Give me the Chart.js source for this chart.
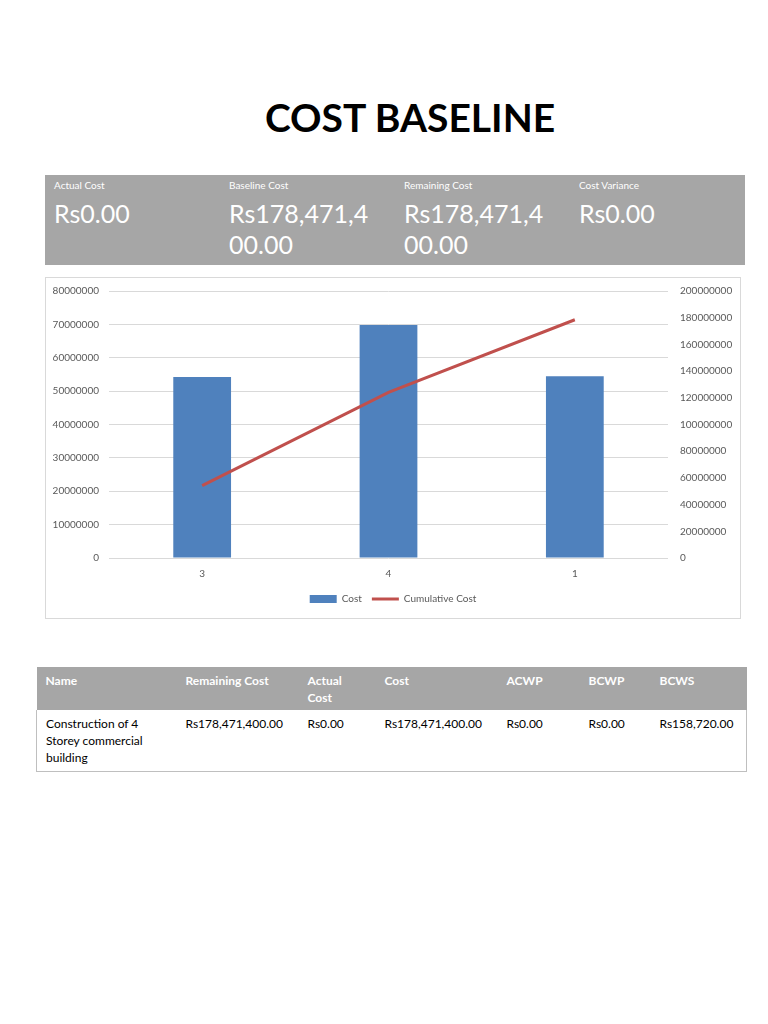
<!DOCTYPE html>
<html lang="en">
<head>
    <meta charset="UTF-8">
    <title>Cost Baseline</title>
    <script src="https://cdn.jsdelivr.net/npm/chart.js@4.4.1/dist/chart.umd.min.js"></script>
    <style>
        body { margin: 0; background: #fff; font-family: Lato, "Open Sans", sans-serif; width: 768px; height: 1024px; position: relative; }
        h1 { position: absolute; top: 94px; left: 26px; width: 768px; margin: 0; text-align: center; font-size: 39px; font-weight: bold; color: #000; }
        .panel { position: absolute; left: 45px; top: 175px; width: 700px; height: 90px; background: #a6a6a6; color: #fff; }
        .kpi { position: absolute; top: 0; width: 172px; }
        .kpi .lbl { font-size: 10px; margin-top: 4px; }
        .kpi .val { font-size: 25px; line-height: 31px; margin-top: 7px; }
        .chartbox { position: absolute; left: 45px; top: 277px; width: 694px; height: 340px; border: 1px solid #d9d9d9; }
        table { position: absolute; left: 36px; top: 667px; width: 711px; border-collapse: collapse; font-size: 12px; line-height: 17px; }
        th { background: #a6a6a6; color: #fff; text-align: left; vertical-align: top; padding: 5px 0 4px 9px; font-weight: bold; }
        td { vertical-align: top; padding: 5px 0 5px 9px; color: #000; border-bottom: 1px solid #bfbfbf; }
        td:first-child { border-left: 1px solid #bfbfbf; }
        td:last-child { border-right: 1px solid #bfbfbf; }
    </style>
</head>
<body>
    <h1>COST BASELINE</h1>

    <div class="panel">
        <div class="kpi" style="left:9px"><div class="lbl">Actual Cost</div><div class="val">Rs0.00</div></div>
        <div class="kpi" style="left:184px"><div class="lbl">Baseline Cost</div><div class="val">Rs178,471,4<br>00.00</div></div>
        <div class="kpi" style="left:359px"><div class="lbl">Remaining Cost</div><div class="val">Rs178,471,4<br>00.00</div></div>
        <div class="kpi" style="left:534px"><div class="lbl">Cost Variance</div><div class="val">Rs0.00</div></div>
    </div>

    <div class="chartbox">
        <canvas id="costChart"></canvas>
    </div>

    <table>
        <tr>
            <th style="width:131px">Name</th>
            <th style="width:113px">Remaining Cost</th>
            <th style="width:68px">Actual<br>Cost</th>
            <th style="width:113px">Cost</th>
            <th style="width:73px">ACWP</th>
            <th style="width:62px">BCWP</th>
            <th>BCWS</th>
        </tr>
        <tr>
            <td>Construction of 4<br>Storey commercial<br>building</td>
            <td>Rs178,471,400.00</td>
            <td>Rs0.00</td>
            <td>Rs178,471,400.00</td>
            <td>Rs0.00</td>
            <td>Rs0.00</td>
            <td>Rs158,720.00</td>
        </tr>
    </table>

    <script>
        // chart data
        const categories = ['3', '4', '1'];
        const costValues = [54200000, 69800000, 54471400];
        const cumulativeValues = [54200000, 124000000, 178471400];
        const leftTicks = [0, 10000000, 20000000, 30000000, 40000000, 50000000, 60000000, 70000000, 80000000];
        const rightTicks = [0, 20000000, 40000000, 60000000, 80000000, 100000000, 120000000, 140000000, 160000000, 180000000, 200000000];

        const tickFont = { family: 'Lato, "Open Sans", sans-serif', size: 10 };
        const tickColor = '#595959';

        // fixed axis sizes so the plot area sits where the reference has it
        function fixSize(w) {
            return axis => {
                axis.width = w;
                axis.paddingTop = 0;
                axis.paddingBottom = 0;
            };
        }

        new Chart(document.getElementById('costChart'), {
            data: {
                labels: categories,
                datasets: [
                    {
                        type: 'line',
                        label: 'Cumulative Cost',
                        data: cumulativeValues,
                        yAxisID: 'y2',
                        borderColor: '#c0504d',
                        backgroundColor: '#c0504d',
                        borderWidth: 3,
                        pointRadius: 0,
                        pointStyle: 'line',
                        tension: 0,
                        order: 0
                    },
                    {
                        type: 'bar',
                        label: 'Cost',
                        data: costValues,
                        yAxisID: 'y',
                        backgroundColor: '#4f81bd',
                        pointStyle: 'rect',
                        barPercentage: 0.31,
                        categoryPercentage: 1,
                        order: 1
                    }
                ]
            },
            options: {
                responsive: true,
                maintainAspectRatio: false,
                animation: false,
                layout: { padding: { top: 13, left: 0, right: 0, bottom: 4 } },
                scales: {
                    x: {
                        grid: { display: false, drawTicks: false, tickLength: 0 },
                        border: { display: false },
                        afterFit: axis => { axis.height = 26; axis.paddingLeft = 0; axis.paddingRight = 0; },
                        ticks: { color: tickColor, font: tickFont, padding: 10 }
                    },
                    y: {
                        position: 'left',
                        min: 0,
                        max: 80000000,
                        grid: { color: '#d9d9d9', drawTicks: false, tickLength: 0 },
                        border: { display: false },
                        afterBuildTicks: axis => { axis.ticks = leftTicks.map(v => ({ value: v })); },
                        afterFit: fixSize(63),
                        ticks: { color: tickColor, font: tickFont, padding: 10, callback: v => String(v) }
                    },
                    y2: {
                        position: 'right',
                        min: 0,
                        max: 200000000,
                        grid: { display: false, drawTicks: false, tickLength: 0 },
                        border: { display: false },
                        afterBuildTicks: axis => { axis.ticks = rightTicks.map(v => ({ value: v })); },
                        afterFit: fixSize(72),
                        ticks: { color: tickColor, font: tickFont, padding: 12, callback: v => String(v) }
                    }
                },
                plugins: {
                    tooltip: { enabled: false },
                    legend: {
                        position: 'bottom',
                        reverse: true,
                        labels: {
                            usePointStyle: true,
                            pointStyleWidth: 27,
                            boxHeight: 8,
                            color: tickColor,
                            font: tickFont,
                            padding: 10
                        }
                    }
                }
            }
        });
    </script>
</body>
</html>
